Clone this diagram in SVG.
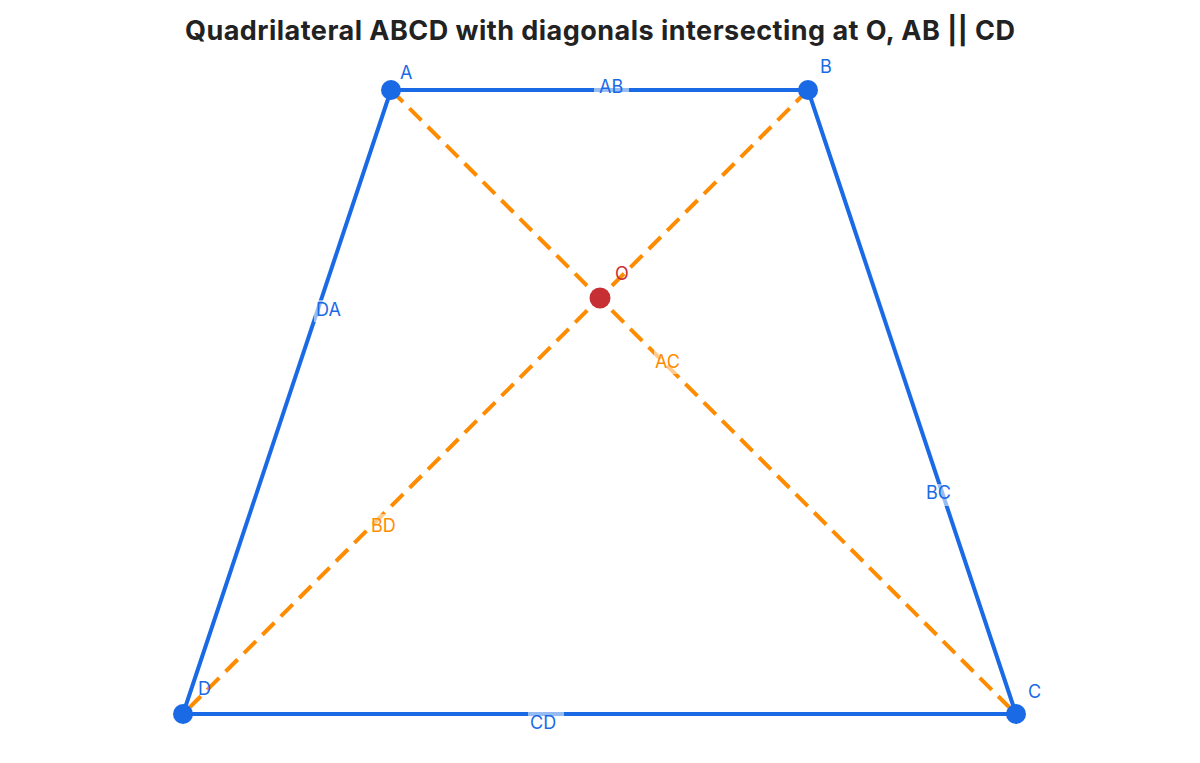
<svg xmlns="http://www.w3.org/2000/svg" width="1200" height="763" viewBox="0 0 1200 763">
<style>
.side{stroke:#1a6ae6;stroke-width:4;fill:none}
.diag{stroke:#ff8c00;stroke-width:4;fill:none;stroke-dasharray:17 9}
.bg{fill:#ffffff;fill-opacity:0.55}
.lbl{font-family:Inter,"Liberation Sans",sans-serif;font-size:18px;font-weight:400}
.blue{fill:#1a6ae6}
.orange{fill:#ff8c00}
.vtx{fill:#1a6ae6}
.title{font-family:Inter,"Liberation Sans",sans-serif;font-size:27px;font-weight:700;fill:#222222}
</style>
<rect width="1200" height="763" fill="#ffffff"/>
<text class="title" x="600" y="40" text-anchor="middle" textLength="830" lengthAdjust="spacing">Quadrilateral ABCD with diagonals intersecting at O, AB || CD</text>
<g id="connectors">
<g id="edge-AB"><line class="side" x1="391" y1="90" x2="808" y2="90"/></g>
<g id="edge-BC"><line class="side" x1="808" y1="90" x2="1016" y2="714"/></g>
<g id="edge-CD"><line class="side" x1="1016" y1="714" x2="183" y2="714"/></g>
<g id="edge-DA"><line class="side" x1="183" y1="714" x2="391" y2="90"/></g>
<g id="diag-AC"><line class="diag" x1="391" y1="90" x2="1016" y2="714"/></g>
<g id="diag-BD"><line class="diag" x1="808" y1="90" x2="183" y2="714"/></g>
</g>
<g id="edge-labels">
<g id="label-AB"><rect class="bg" x="594" y="78" width="35" height="18"/><text class="lbl blue" x="599" y="93">AB</text></g>
<g id="label-BC"><rect class="bg" x="925" y="484" width="32" height="22"/><text class="lbl blue" x="926" y="499">BC</text></g>
<g id="label-CD"><rect class="bg" x="528" y="710" width="36" height="20"/><text class="lbl blue" x="530" y="729">CD</text></g>
<g id="label-DA"><rect class="bg" x="314" y="300" width="32" height="22"/><text class="lbl blue" x="316" y="316">DA</text></g>
<g id="label-AC"><rect class="bg" x="654" y="350" width="30" height="24"/><text class="lbl orange" x="655" y="368">AC</text></g>
<g id="label-BD"><rect class="bg" x="370" y="514" width="30" height="22"/><text class="lbl orange" x="371" y="532">BD</text></g>
</g>
<g id="node-A"><circle class="vtx" cx="391" cy="90" r="10"/><text class="lbl blue" x="400" y="79">A</text></g>
<g id="node-B"><circle class="vtx" cx="808" cy="90" r="10"/><text class="lbl blue" x="820" y="73">B</text></g>
<g id="node-C"><circle class="vtx" cx="1016" cy="714" r="10"/><text class="lbl blue" x="1028" y="698">C</text></g>
<g id="node-D"><circle class="vtx" cx="183" cy="714" r="10"/><text class="lbl blue" x="198" y="695">D</text></g>
<g id="node-O"><circle cx="600" cy="298" r="10.5" fill="#c62f33"/><text class="lbl" x="615" y="280" fill="#c62f33">O</text></g>
</svg>
